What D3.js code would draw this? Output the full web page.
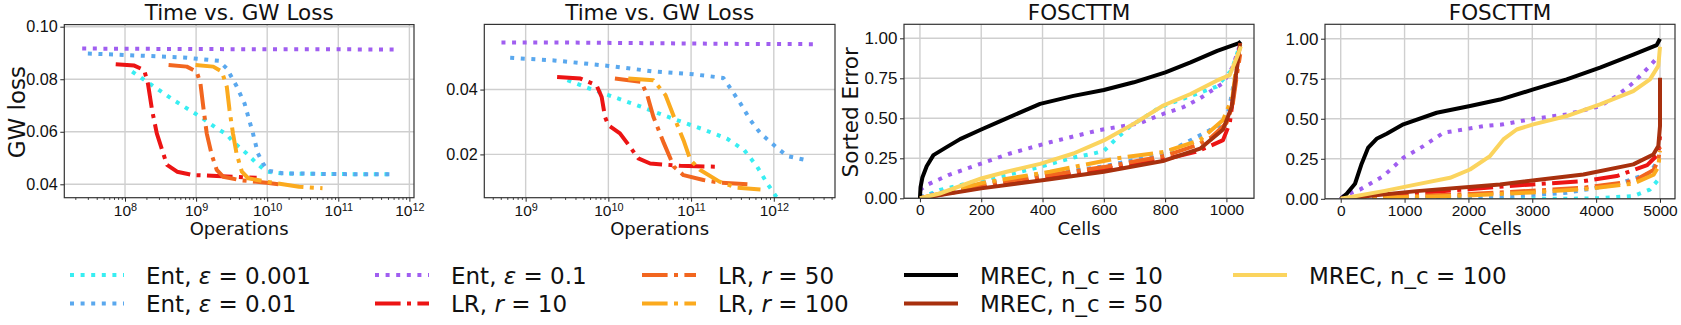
<!DOCTYPE html>
<html>
<head>
<meta charset="utf-8">
<script src="https://cdn.jsdelivr.net/npm/d3@7"></script>
<style>
  body { margin: 0; background: #fff; }
  svg { display: block; font-family: "DejaVu Sans", sans-serif; }
</style>
</head>
<body>
<svg id="fig" width="1681" height="325"></svg>
<script>
// ---- data: panel A (Time vs. GW Loss, first dataset) [operations, GW loss]
const gwA_ent001 = [[1.26e8,0.0829],[1.66e8,0.0807],[2.8e8,0.0765],[4.8e8,0.0721],[1.15e9,0.0657],[1.95e9,0.0613],[2.7e9,0.059],[3.3e9,0.0562],[5.1e9,0.0518],[7.1e9,0.048],[9.8e9,0.0448],[1.66e10,0.0441],[8.3e10,0.0439],[5.4e11,0.0438]];
const gwA_ent01  = [[3.0e7,0.0898],[6.6e8,0.0883],[2.1e9,0.087],[2.7e9,0.0841],[3.7e9,0.0774],[4.8e9,0.0708],[6.3e9,0.0594],[7.4e9,0.0518],[8.7e9,0.048],[1.02e10,0.0452],[1.66e10,0.0442],[8.3e10,0.0439],[5.4e11,0.0438]];
const gwA_ent1   = [[2.5e7,0.0917],[1e8,0.0916],[1e9,0.0915],[1e10,0.0914],[1e11,0.0914],[6.6e11,0.0913]];
const gwA_lr10   = [[7.4e7,0.0857],[1.35e8,0.0852],[1.86e8,0.0835],[2.1e8,0.0784],[2.4e8,0.0683],[2.8e8,0.0594],[3.5e8,0.0512],[3.9e8,0.0474],[5.4e8,0.0448],[9.1e8,0.0435],[1.95e9,0.0432],[4.6e9,0.0427],[7.1e9,0.0425]];
const gwA_lr50   = [[4.1e8,0.0854],[7.4e8,0.0848],[1.02e9,0.0829],[1.15e9,0.0784],[1.26e9,0.0696],[1.41e9,0.0594],[1.66e9,0.0512],[1.95e9,0.0455],[2.4e9,0.0429],[4.1e9,0.0416],[9.8e9,0.0406],[1.48e10,0.040]];
const gwA_lr100  = [[9.8e8,0.0854],[1.74e9,0.0848],[2.3e9,0.0829],[2.7e9,0.0772],[2.95e9,0.0683],[3.3e9,0.0594],[3.7e9,0.0518],[4.4e9,0.0448],[5.4e9,0.0423],[9.8e9,0.041],[1.66e10,0.040],[2.8e10,0.0391],[6.0e10,0.0385]];

// ---- data: panel B (Time vs. GW Loss, second dataset)
const gwB_ent001 = [[3.2e9,0.0429],[5.5e9,0.0406],[1e10,0.0383],[2.2e10,0.0352],[6.2e10,0.0309],[1.41e11,0.0277],[2.7e11,0.0249],[4.4e11,0.0213],[6.3e11,0.0162],[8.3e11,0.0111],[1.07e12,0.007],[1.15e12,0.006]];
const gwB_ent01  = [[6.5e8,0.0498],[2.2e9,0.049],[1e10,0.0473],[3.5e10,0.0456],[1.07e11,0.0447],[2.45e11,0.0436],[2.95e11,0.0406],[4.0e11,0.0355],[5.2e11,0.0306],[6.9e11,0.0265],[1.1e12,0.022],[1.45e12,0.0195],[2.6e12,0.0181]];
const gwB_ent1   = [[5.1e8,0.0545],[3.2e9,0.0545],[3.2e10,0.0543],[3.2e11,0.0541],[3.5e12,0.054]];
const gwB_lr10   = [[2.4e9,0.0439],[4.6e9,0.0434],[7.2e9,0.0413],[8.3e9,0.0377],[9.1e9,0.0316],[1e10,0.029],[1.38e10,0.0265],[1.82e10,0.0224],[2.3e10,0.0188],[3.2e10,0.0172],[7.4e10,0.0165],[2.0e11,0.0162]];
const gwB_lr50   = [[1.2e10,0.0434],[2.5e10,0.0424],[2.95e10,0.0383],[3.5e10,0.0316],[4.7e10,0.0234],[6.2e10,0.0162],[8.1e10,0.0136],[1.41e11,0.0121],[2.2e11,0.0113],[4.8e11,0.0108]];
const gwB_lr100  = [[1.74e10,0.0434],[3.5e10,0.0429],[4.9e10,0.0383],[6.2e10,0.0316],[8.1e10,0.0244],[9.8e10,0.0183],[1.29e11,0.0152],[2.2e11,0.0116],[3.6e11,0.0097],[6.9e11,0.0092]];

// ---- data: panel C (FOSCTTM, 1047 cells) [cell index, sorted error]
const fosA_ent001  = [[0,0],[65,0.052],[200,0.114],[283,0.145],[392,0.197],[501,0.255],[567,0.28],[600,0.296],[642,0.375],[685,0.448],[783,0.569],[968,0.698],[1017,0.8],[1041,0.94],[1047,0.96]];
const fosA_ent01   = [[0,0.01],[100,0.05],[200,0.095],[400,0.145],[600,0.2],[800,0.28],[1000,0.48],[1045,0.92]];
const fosA_ent1    = [[0,0.052],[22,0.083],[93,0.145],[200,0.217],[294,0.28],[424,0.35],[587,0.427],[717,0.469],[797,0.53],[860,0.57],[914,0.625],[989,0.72],[1020,0.82],[1041,0.94],[1047,0.96]];
const fosA_lr10    = [[0,0],[200,0.068],[424,0.128],[600,0.18],[800,0.245],[900,0.29],[950,0.33],[989,0.364],[1011,0.47],[1027,0.7],[1040,0.9]];
const fosA_lr50    = [[0,0],[100,0.04],[200,0.085],[400,0.14],[600,0.195],[800,0.265],[900,0.33],[950,0.38],[1000,0.47],[1020,0.58],[1035,0.78],[1045,0.9]];
const fosA_lr100   = [[0,0],[100,0.045],[200,0.095],[424,0.166],[642,0.25],[797,0.29],[914,0.364],[989,0.489],[1020,0.635],[1038,0.91]];
const fosA_mrec10  = [[0,0],[2,0.07],[8,0.13],[22,0.2],[44,0.27],[87,0.32],[131,0.37],[200,0.43],[283,0.5],[392,0.59],[501,0.64],[600,0.677],[698,0.725],[801,0.787],[883,0.849],[970,0.921],[1041,0.97],[1047,0.98]];
const fosA_mrec50  = [[0,0],[200,0.062],[424,0.119],[600,0.166],[797,0.235],[914,0.31],[989,0.43],[1017,0.57],[1033,0.8],[1045,0.97]];
const fosA_mrec100 = [[0,0],[65,0.03],[200,0.124],[283,0.166],[392,0.215],[501,0.28],[600,0.362],[698,0.466],[794,0.58],[883,0.652],[968,0.735],[1011,0.77],[1038,0.9],[1047,0.95]];

// ---- data: panel D (FOSCTTM, 5000 cells)
const fosB_ent001  = [[0,0],[3500,0],[4000,0.003],[4582,0.017],[4843,0.058],[4974,0.12],[5000,0.13]];
const fosB_ent01   = [[0,0],[1000,0.005],[2000,0.01],[2800,0.02],[3539,0.0375],[4322,0.09],[4843,0.16],[4974,0.246]];
const fosB_ent1    = [[0,0],[42,0.017],[303,0.058],[668,0.142],[981,0.256],[1294,0.329],[1608,0.4125],[1921,0.433],[2234,0.454],[2547,0.465],[3017,0.5],[3539,0.527],[4061,0.579],[4322,0.642],[4582,0.725],[4843,0.83],[4974,0.89]];
const fosB_lr10    = [[0,0],[1000,0.03],[2000,0.06],[3000,0.09],[3800,0.11],[4322,0.142],[4800,0.21],[4974,0.28],[5000,0.39]];
const fosB_lr50    = [[0,0],[1000,0.015],[2000,0.03],[3000,0.05],[3800,0.069],[4582,0.11],[4900,0.18],[4974,0.24],[5000,0.32]];
const fosB_lr100   = [[0,0],[1000,0.01],[2000,0.02],[3000,0.04],[3800,0.06],[4582,0.095],[4900,0.15],[4974,0.2],[5000,0.3]];
const fosB_mrec10  = [[0,0],[94,0.031],[224,0.094],[328,0.219],[431,0.32],[562,0.375],[720,0.406],[981,0.465],[1503,0.5375],[2025,0.58],[2495,0.62],[3017,0.683],[3539,0.746],[4061,0.819],[4582,0.9],[4948,0.96],[5000,1.0]];
const fosB_mrec50  = [[0,0],[1190,0.048],[2495,0.09],[3800,0.152],[4582,0.215],[4895,0.277],[4974,0.33],[5000,0.454],[5000,0.756]];
const fosB_mrec100 = [[0,0],[668,0.048],[1190,0.09],[1712,0.131],[2025,0.183],[2338,0.267],[2547,0.371],[2756,0.433],[3017,0.465],[3539,0.517],[4061,0.59],[4582,0.673],[4843,0.746],[4974,0.83],[5000,0.95]];

// ---- series / legend
const seriesKeys = ['ent001','ent01','ent1','lr10','lr50','lr100','mrec10','mrec50','mrec100'];
const legendLabels = [
  ['Ent, ', 'ε', ' = 0.001'], ['Ent, ', 'ε', ' = 0.01'], ['Ent, ', 'ε', ' = 0.1'],
  ['LR, ', 'r', ' = 10'], ['LR, ', 'r', ' = 50'], ['LR, ', 'r', ' = 100'],
  ['MREC, n_c = 10'], ['MREC, n_c = 50'], ['MREC, n_c = 100']
];
const colors = {
  ent001: '#38eef2', ent01: '#5aa8ee', ent1: '#a05ef0',
  lr10: '#ec1414', lr50: '#f2661f', lr100: '#fbaa1e',
  mrec10: '#000000', mrec50: '#a8300e', mrec100: '#fbd45e'
};
const dashFor = k => k.startsWith('ent') ? '4,6.6' : k.startsWith('lr') ? '25.6,6.4,4,6.4' : null;

const gwTicksA = [0.04, 0.06, 0.08, 0.10];
const gwTicksB = [0.02, 0.04];
const logTicksA = [1e8, 1e9, 1e10, 1e11, 1e12];
const logTicksB = [1e9, 1e10, 1e11, 1e12];
const errTicks = [0, 0.25, 0.5, 0.75, 1.0];
const cellTicksA = [0, 200, 400, 600, 800, 1000];
const cellTicksB = [0, 1000, 2000, 3000, 4000, 5000];

const panels = [
  { title: 'Time vs. GW Loss', xlabel: 'Operations', ylabel: 'GW loss', ylabelX: 25, ylabelSize: 23,
    left: 64.3, right: 414, top: 24.6, bottom: 197.7, log: true,
    xDomain: [Math.pow(10, 7.146), Math.pow(10, 12.065)], yDomain: [0.0349, 0.1008],
    xTicks: logTicksA, yTicks: gwTicksA, yFmt: d3.format('.2f'), ytSize: 16.2,
    series: { ent001: gwA_ent001, ent01: gwA_ent01, ent1: gwA_ent1, lr10: gwA_lr10, lr50: gwA_lr50, lr100: gwA_lr100 } },
  { title: 'Time vs. GW Loss', xlabel: 'Operations', ylabel: null,
    left: 484.3, right: 835, top: 24.4, bottom: 197.7, log: true,
    xDomain: [Math.pow(10, 8.5), Math.pow(10, 12.74)], yDomain: [0.00665, 0.0601],
    xTicks: logTicksB, yTicks: gwTicksB, yFmt: d3.format('.2f'), ytSize: 16.2,
    series: { ent001: gwB_ent001, ent01: gwB_ent01, ent1: gwB_ent1, lr10: gwB_lr10, lr50: gwB_lr50, lr100: gwB_lr100 } },
  { title: 'FOSCTTM', xlabel: 'Cells', ylabel: 'Sorted Error', ylabelX: 858, ylabelSize: 21.5,
    left: 904, right: 1254, top: 24.3, bottom: 198.3, log: false,
    xDomain: [-52, 1090], yDomain: [0, 1.0875],
    xTicks: cellTicksA, yTicks: errTicks, yFmt: d3.format('.2f'), ytSize: 17,
    series: { ent001: fosA_ent001, ent01: fosA_ent01, ent1: fosA_ent1, lr10: fosA_lr10, lr50: fosA_lr50, lr100: fosA_lr100, mrec10: fosA_mrec10, mrec50: fosA_mrec50, mrec100: fosA_mrec100 } },
  { title: 'FOSCTTM', xlabel: 'Cells', ylabel: null,
    left: 1325, right: 1675, top: 24.3, bottom: 198.8, log: false,
    xDomain: [-246, 5235], yDomain: [0, 1.09],
    xTicks: cellTicksB, yTicks: errTicks, yFmt: d3.format('.2f'), ytSize: 17,
    series: { ent001: fosB_ent001, ent01: fosB_ent01, ent1: fosB_ent1, lr10: fosB_lr10, lr50: fosB_lr50, lr100: fosB_lr100, mrec10: fosB_mrec10, mrec50: fosB_mrec50, mrec100: fosB_mrec100 } }
];

const svg = d3.select('#fig');
const ink = '#262626';

function drawPanel(p, idx) {
  const g = svg.append('g');
  const x = (p.log ? d3.scaleLog() : d3.scaleLinear()).domain(p.xDomain).range([p.left, p.right]);
  const y = d3.scaleLinear().domain(p.yDomain).range([p.bottom, p.top]);

  // grid
  const grid = g.append('g').attr('stroke', '#cfcfcf').attr('stroke-width', 1.4);
  grid.selectAll('.gx').data(p.xTicks.filter(d => x(d) >= p.left && x(d) <= p.right)).join('line')
    .attr('x1', d => x(d)).attr('x2', d => x(d)).attr('y1', p.top).attr('y2', p.bottom);
  grid.selectAll('.gy').data(p.yTicks).join('line')
    .attr('y1', d => y(d)).attr('y2', d => y(d)).attr('x1', p.left).attr('x2', p.right);

  // lines
  const clipId = 'clip' + idx;
  svg.append('clipPath').attr('id', clipId).append('rect')
    .attr('x', p.left).attr('y', p.top).attr('width', p.right - p.left).attr('height', p.bottom - p.top);
  const line = d3.line().x(d => x(d[0])).y(d => y(d[1]));
  const lg = g.append('g').attr('clip-path', `url(#${clipId})`);
  seriesKeys.filter(k => p.series[k]).forEach(k => {
    lg.append('path')
      .datum(p.series[k])
      .attr('d', line)
      .attr('fill', 'none')
      .attr('stroke', colors[k])
      .attr('stroke-width', 4)
      .attr('stroke-linejoin', 'round')
      .attr('stroke-dasharray', dashFor(k));
  });

  // axes
  const xAxis = g.append('g').attr('transform', `translate(0,${p.bottom})`);
  if (p.log) {
    const minors = [];
    const lo = Math.floor(Math.log10(p.xDomain[0])), hi = Math.ceil(Math.log10(p.xDomain[1]));
    for (let e = lo; e <= hi; e++) for (let m = 2; m <= 9; m++) {
      const v = m * Math.pow(10, e);
      if (v >= p.xDomain[0] && v <= p.xDomain[1]) minors.push(v);
    }
    g.append('g').attr('transform', `translate(0,${p.bottom})`)
      .call(d3.axisBottom(x).tickValues(minors).tickSize(2.2).tickFormat(''))
      .call(a => a.select('.domain').remove())
      .call(a => a.selectAll('line').attr('stroke', ink).attr('stroke-width', 0.9));
    xAxis.call(d3.axisBottom(x).tickValues(p.xTicks).tickSize(4).tickPadding(3.5));
    xAxis.selectAll('text').each(function (d) {
      const t = d3.select(this).text('10').attr('font-size', 15.5);
      t.append('tspan').attr('dy', '-0.5em').attr('font-size', '0.7em').text(Math.round(Math.log10(d)));
    });
  } else {
    xAxis.call(d3.axisBottom(x).tickValues(p.xTicks).tickFormat(d3.format('d')).tickSize(4).tickPadding(1.8));
    xAxis.selectAll('text').attr('font-size', 15.5);
  }
  xAxis.select('.domain').remove();
  xAxis.selectAll('line').attr('stroke', ink).attr('stroke-width', 1);
  xAxis.selectAll('text').attr('fill', '#111').attr('font-family', null);

  const yAxis = g.append('g').attr('transform', `translate(${p.left},0)`)
    .call(d3.axisLeft(y).tickValues(p.yTicks).tickFormat(p.yFmt).tickSize(4).tickPadding(2.5));
  yAxis.select('.domain').remove();
  yAxis.selectAll('line').attr('stroke', ink).attr('stroke-width', 1);
  yAxis.selectAll('text').attr('font-size', p.ytSize).attr('fill', '#111').attr('font-family', null);

  // frame
  g.append('rect').attr('x', p.left).attr('y', p.top)
    .attr('width', p.right - p.left).attr('height', p.bottom - p.top)
    .attr('fill', 'none').attr('stroke', '#333').attr('stroke-width', 1.2);

  const cx = (p.left + p.right) / 2;
  g.append('text').attr('x', cx).attr('y', 19.5).attr('text-anchor', 'middle')
    .attr('font-size', 21.5).attr('fill', '#111').text(p.title);
  g.append('text').attr('x', cx).attr('y', 235).attr('text-anchor', 'middle')
    .attr('font-size', 18).attr('fill', '#111').text(p.xlabel);
  if (p.ylabel) {
    g.append('text').attr('transform', `translate(${p.ylabelX},${(p.top + p.bottom) / 2 + 1}) rotate(-90)`)
      .attr('text-anchor', 'middle').attr('font-size', p.ylabelSize).attr('fill', '#111').text(p.ylabel);
  }
}

panels.forEach(drawPanel);

// single legend: 5 columns x 2 rows, filled column-wise
const legColX = [70, 375, 642, 904, 1233];
const legRows = [[275, 283.5], [303.5, 312]];
const leg = svg.append('g');
seriesKeys.forEach((k, i) => {
  const c0 = legColX[Math.floor(i / 2)], r = legRows[i % 2];
  leg.append('line').attr('x1', c0).attr('x2', c0 + 54).attr('y1', r[0]).attr('y2', r[0])
    .attr('stroke', colors[k]).attr('stroke-width', 4).attr('stroke-dasharray', dashFor(k));
  const t = leg.append('text').attr('x', c0 + 76).attr('y', r[1]).attr('font-size', 23).attr('fill', '#111');
  legendLabels[i].forEach((s, j) => {
    t.append('tspan').attr('font-style', j === 1 ? 'italic' : null).text(s);
  });
});
</script>
</body>
</html>
